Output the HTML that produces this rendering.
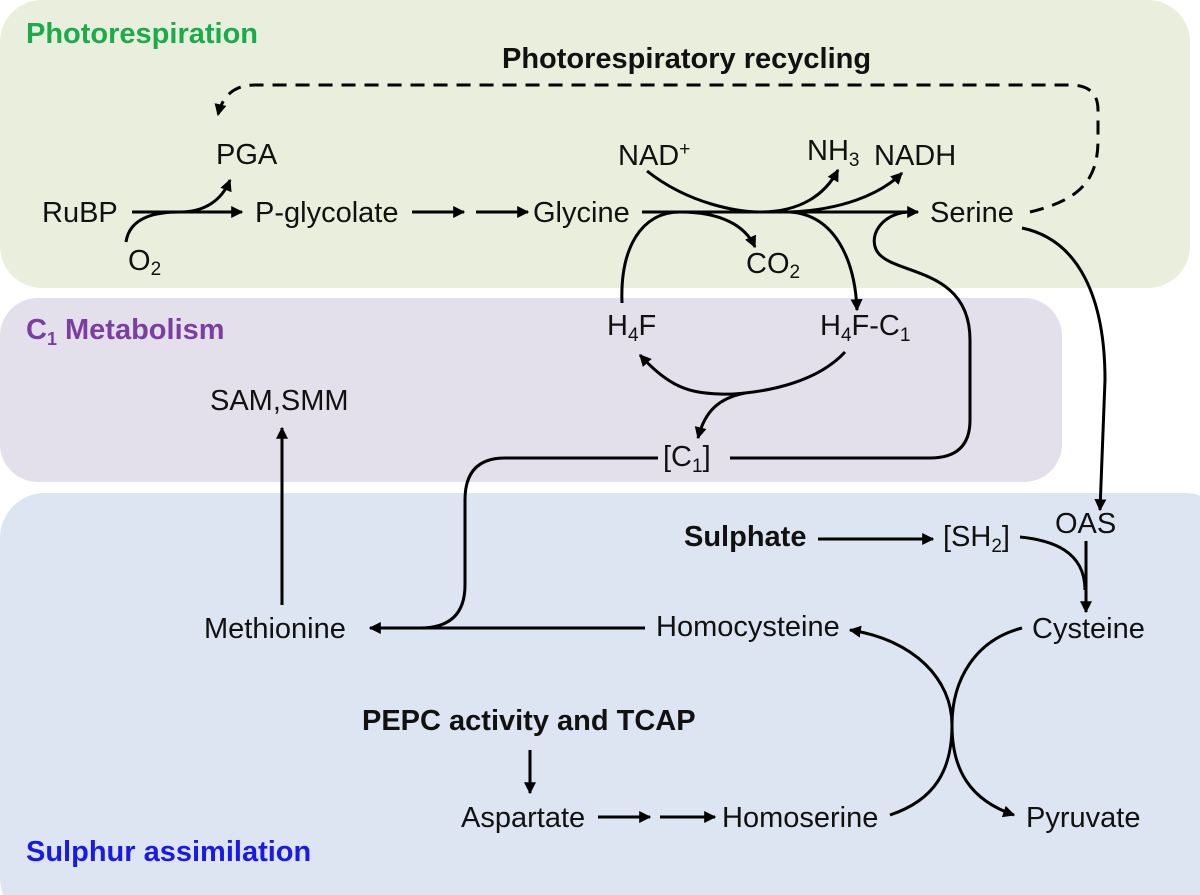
<!DOCTYPE html>
<html><head><meta charset="utf-8"><style>
html,body{margin:0;padding:0;background:#fff;}
svg{display:block;}
text{font-family:"Liberation Sans",Arial,sans-serif;font-size:29px;fill:#111;}
.b{font-weight:bold;}
</style></head><body>
<svg width="1200" height="895" viewBox="0 0 1200 895" xmlns="http://www.w3.org/2000/svg">
<defs>
<marker id="m" viewBox="0 0 10 10" refX="9" refY="5" markerWidth="12" markerHeight="12" orient="auto" markerUnits="userSpaceOnUse"><path d="M0,0 L10,5 L0,10 z" fill="#000"/></marker>
</defs>
<rect x="0" y="0" width="1190" height="288" rx="42" fill="#eaeedd"/>
<rect x="0" y="298" width="1062" height="184" rx="38" fill="#e3dfeb"/>
<rect x="0" y="493" width="1230" height="430" rx="45" fill="#dce5f1"/>

<text x="26" y="43" class="b" style="fill:#1bab4b">Photorespiration</text>
<text x="26" y="339" class="b" style="fill:#7a3fa0">C<tspan font-size="18" dy="6">1</tspan><tspan dy="-6"> Metabolism</tspan></text>
<text x="26" y="861" class="b" style="fill:#1a1ae6">Sulphur assimilation</text>
<text x="502" y="68" class="b">Photorespiratory recycling</text>

<g fill="none" stroke="#000" stroke-width="3">
<path d="M1030,212 C1080,200 1098,180 1098,140 L1098,110 Q1098,85 1070,85 L255,85 Q225,85 218,115" stroke-dasharray="14,9" marker-end="url(#m)"/>
<path d="M132,212 L242,212" marker-end="url(#m)"/>
<path d="M126,242 C130,215 160,212 180,212 C205,212 222,200 230,180" marker-end="url(#m)"/>
<path d="M412,212 L464,212" marker-end="url(#m)"/>
<path d="M476,212 L528,212" marker-end="url(#m)"/>
<path d="M642,212 L918,212" marker-end="url(#m)"/>
<path d="M647,171 C690,205 740,212 760,212 C800,212 825,195 838,170" marker-end="url(#m)"/>
<path d="M790,212 C840,210 880,195 902,173" marker-end="url(#m)"/>
<path d="M680,212 C720,212 745,225 755,247" marker-end="url(#m)"/>
<path d="M622,303 C620,250 640,212 680,212"/>
<path d="M790,212 C835,215 855,260 857,310" marker-end="url(#m)"/>
<path d="M915,212 C880,210 865,240 880,255 C900,275 970,270 970,340 L970,420 Q970,458 930,458 L730,458"/>
<path d="M845,352 C810,390 740,395 720,394 C690,393 670,388 640,355" marker-end="url(#m)"/>
<path d="M745,393 C720,398 705,410 698,438" marker-end="url(#m)"/>
<path d="M658,458 L505,458 Q465,458 465,500 L465,585 Q465,628 420,628"/>
<path d="M645,628 L370,628" marker-end="url(#m)"/>
<path d="M282,605 L282,428" marker-end="url(#m)"/>
<path d="M818,539 L933,539" marker-end="url(#m)"/>
<path d="M1020,537 C1050,540 1085,550 1085,590"/>
<path d="M1086,541 L1086,612" marker-end="url(#m)"/>
<path d="M1022,228 C1080,240 1105,300 1105,380 L1100,510" marker-end="url(#m)"/>
<path d="M1022,628 C975,640 952,680 952,725 C952,770 970,800 1014,815" marker-end="url(#m)"/>
<path d="M890,815 C935,800 952,770 952,725 C952,680 915,640 850,630" marker-end="url(#m)"/>
<path d="M530,750 L530,793" marker-end="url(#m)"/>
<path d="M598,817 L650,817" marker-end="url(#m)"/>
<path d="M660,817 L715,817" marker-end="url(#m)"/>
</g>

<text x="216" y="164">PGA</text>
<text x="42" y="222">RuBP</text>
<text x="128" y="270">O<tspan font-size="19" dy="5">2</tspan></text>
<text x="255" y="222">P-glycolate</text>
<text x="533" y="222">Glycine</text>
<text x="618" y="165">NAD<tspan font-size="19" dy="-10">+</tspan></text>
<text x="807" y="160">NH<tspan font-size="19" dy="6">3</tspan></text>
<text x="874" y="165">NADH</text>
<text x="930" y="222">Serine</text>
<text x="746" y="273">CO<tspan font-size="19" dy="5">2</tspan></text>
<text x="607" y="335">H<tspan font-size="19" dy="6">4</tspan><tspan dy="-6">F</tspan></text>
<text x="820" y="335">H<tspan font-size="19" dy="6">4</tspan><tspan dy="-6">F-C</tspan><tspan font-size="19" dy="6">1</tspan></text>
<text x="210" y="410">SAM,SMM</text>
<text x="663" y="466">[C<tspan font-size="19" dy="6">1</tspan><tspan dy="-6">]</tspan></text>
<text x="684" y="546" class="b">Sulphate</text>
<text x="943" y="546">[SH<tspan font-size="19" dy="6">2</tspan><tspan dy="-6">]</tspan></text>
<text x="1055" y="533">OAS</text>
<text x="204" y="638">Methionine</text>
<text x="656" y="636">Homocysteine</text>
<text x="1032" y="638">Cysteine</text>
<text x="362" y="730" class="b">PEPC activity and TCAP</text>
<text x="461" y="827">Aspartate</text>
<text x="722" y="827">Homoserine</text>
<text x="1026" y="827">Pyruvate</text>
</svg>
</body></html>
